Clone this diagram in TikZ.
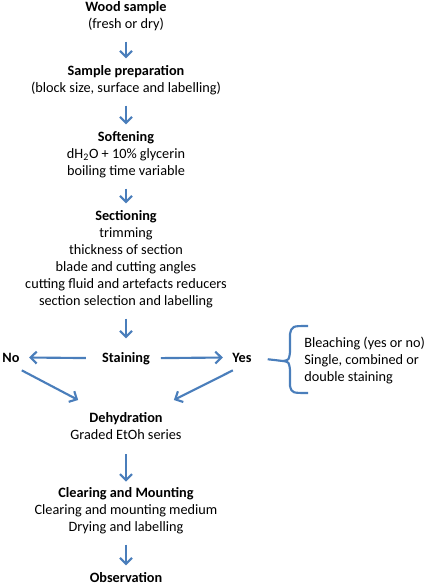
\documentclass[tikz,border=0pt]{standalone}
\usepackage{fontspec}
\setmainfont{Carlito}
\usepackage{xcolor}
\usepackage{tikz}
\usetikzlibrary{arrows.meta}
\definecolor{flowblue}{RGB}{74, 126, 187}

\tikzset{
    stepnode/.style={align=center, inner sep=0pt, font=\fontsize{10.7}{12.75}\selectfont},
    flow/.style={draw=flowblue, line width=1.6pt, -{Straight Barb[length=4.5pt, width=9pt]}},
    vflow/.style={flow, shorten <=8pt, shorten >=5pt},
    braceline/.style={draw=flowblue, line width=1.6pt}
}

\begin{document}
\begin{tikzpicture}[x=0.75pt, y=-0.75pt]
    \useasboundingbox (0,0) rectangle (425,585);

    % Main column
    \node[stepnode, anchor=north] (wood) at (126, 1) {\textbf{Wood sample}\\(fresh or dry)};
    \node[stepnode, anchor=north] (prep) at (126, 65) {\textbf{Sample preparation}\\(block size, surface and labelling)};
    \node[stepnode, anchor=north] (soft) at (126, 131) {\textbf{Softening}\\dH\textsubscript{2}O + 10\% glycerin\\boiling time variable};
    \node[stepnode, anchor=north] (sect) at (126, 210) {\textbf{Sectioning}\\trimming\\thickness of section\\blade and cutting angles\\cutting fluid and artefacts reducers\\section selection and labelling};

    % Staining row
    \node[stepnode, anchor=base] (stain) at (126, 362) {\textbf{Staining}};
    \node[stepnode, anchor=base] (no) at (11, 362) {\textbf{No}};
    \node[stepnode, anchor=base] (yes) at (242, 362) {\textbf{Yes}};
    \node[stepnode, anchor=west, align=left] (bleach) at (304, 361) {Bleaching (yes or no)\\Single, combined or\\double staining};

    \node[stepnode, anchor=north] (dehyd) at (126, 412) {\textbf{Dehydration}\\Graded EtOh series};
    \node[stepnode, anchor=north] (clear) at (126, 487) {\textbf{Clearing and Mounting}\\Clearing and mounting medium\\Drying and labelling};
    \node[stepnode, anchor=north] (obs) at (126, 572) {\textbf{Observation}};

    % Brace
    \coordinate (bracetip) at (283, 361);
    \draw[braceline] (308, 326) .. controls (292, 326) .. (290, 334) -- (290, 352)
        .. controls (289, 360) .. (bracetip)
        .. controls (289, 362) .. (290, 370) -- (290, 386)
        .. controls (292, 393) .. (308, 393);
    \draw[braceline, shorten <=12pt] (yes.east) -- (bracetip);

    % Arrows
    \draw[vflow] (wood) -- (prep);
    \draw[vflow] (prep) -- (soft);
    \draw[vflow] (soft) -- (sect);
    \draw[vflow, shorten >=10pt] (sect) -- (stain);
    \draw[vflow, shorten <=11pt, shorten >=4pt] (dehyd) -- (clear);
    \draw[vflow] (clear) -- (obs);
    \draw[flow, shorten <=12pt, shorten >=7pt] (stain.west) -- (no.east);
    \draw[flow, shorten <=8pt, shorten >=7pt] (stain.east) -- (yes.west);
    \draw[flow] ([shift={(2,8)}]no.south east) -- ([shift={(8,-12)}]dehyd.north west);
    \draw[flow] ([shift={(-19,8)}]yes.south east) -- ([shift={(-8,-12)}]dehyd.north east);
\end{tikzpicture}
\end{document}
